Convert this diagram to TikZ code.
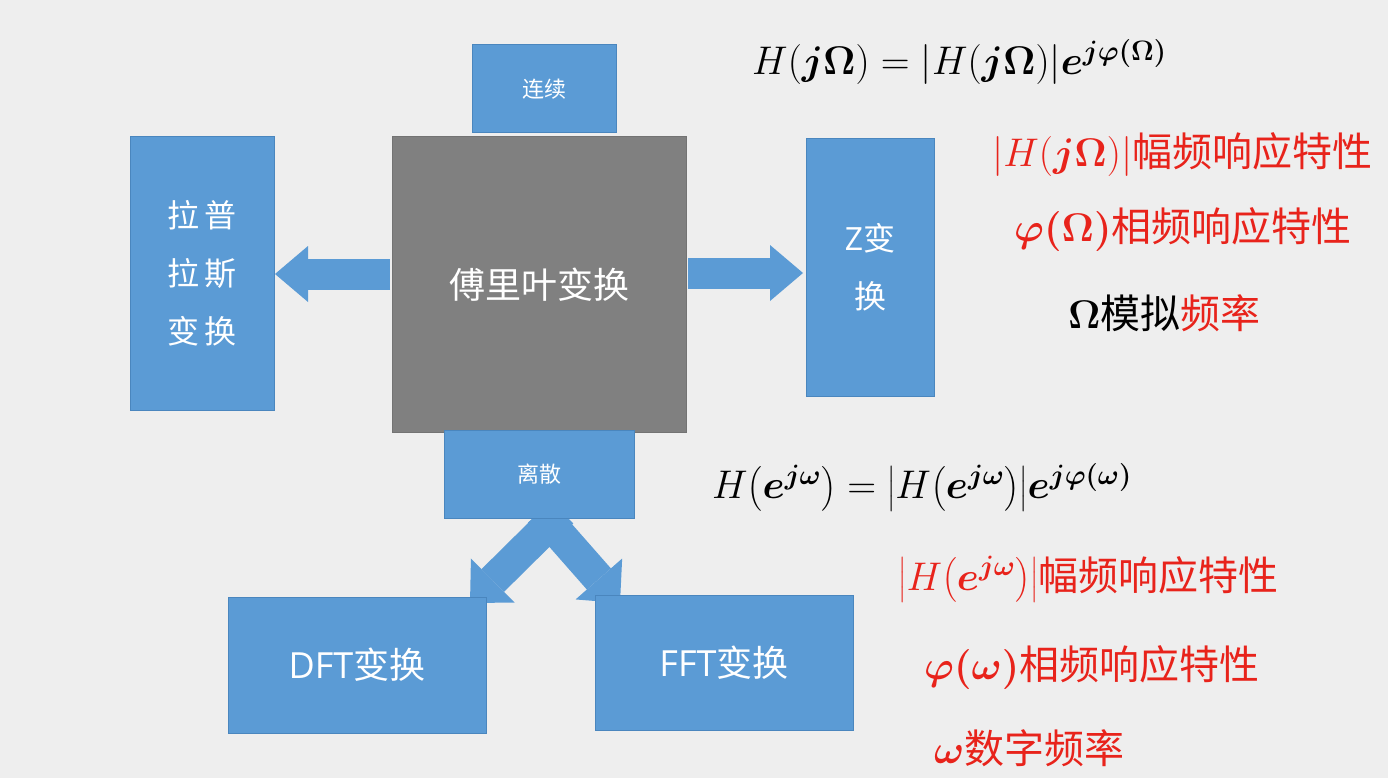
\RequirePackage{fix-cm}
\documentclass[tikz,border=0pt]{standalone}
\usepackage{amsmath,bm}
\usepackage{fontspec}
\setsansfont{Open Sans}
\newfontfamily\cjk{Noto Sans CJK SC}
\usetikzlibrary{calc}
\definecolor{bb}{HTML}{5B9BD5}
\definecolor{bd}{HTML}{4A86BE}
\definecolor{gr}{HTML}{808080}
\definecolor{rd}{HTML}{E8231B}
\definecolor{bg}{HTML}{EEEEEE}
\tikzset{
 blk/.style={draw=bd,fill=bb,line width=1pt,text=white,inner sep=0pt,font=\cjk},
 big/.style={font=\fontsize{40}{46}\selectfont},
 lab/.style={anchor=west,inner sep=0pt},
}
\begin{document}
\begin{tikzpicture}[x=1pt,y=-1pt]
\fill[bg] (0,0) rectangle (1388,778);
\useasboundingbox (0,0) rectangle (1388,778);
% boxes
\node[blk,minimum width=144pt,minimum height=88pt,font=\cjk\fontsize{22}{26}\selectfont] (lianxu) at (544,89) {连续};
\node[blk,draw=gr!90!black,fill=gr,minimum width=294pt,minimum height=295pt,font=\cjk\fontsize{36}{40}\selectfont] (ft) at (539,284.5) {傅里叶变换};
\node[blk,minimum width=144pt,minimum height=273pt,align=center,font=\cjk\fontsize{32}{58}\selectfont] (lap) at (202,273.5) {拉\,普\\拉\,斯\\变\,换};
\node[blk,minimum width=128pt,minimum height=257pt,align=center,font=\cjk\fontsize{32}{58}\selectfont] (z) at (870,267.5) {{\sffamily Z}变\\换};
% chevron arrows (drawn before 离散 box)
\coordinate (s1) at (562,512);
\coordinate (t1) at (470,603);
\coordinate (s2) at (540,512);
\coordinate (t2) at (620,603);
\foreach \s/\t in {s1/t1,s2/t2}{
 \coordinate (b) at ($(\t)!32pt!(\s)$);
 \draw[bb,line width=32pt] (\s) -- (b);
 \fill[bb] (\t) -- ($(b)!31pt!90:(\t)$) -- ($(b)!31pt!-90:(\t)$) -- cycle;
}
\node[blk,minimum width=190pt,minimum height=88pt,font=\cjk\fontsize{22}{26}\selectfont] (lisan) at (539,474) {离散};
\node[blk,minimum width=258pt,minimum height=136pt,font=\fontsize{36}{40}\selectfont] (dft) at (357,665) {{\sffamily DFT}\cjk 变换};
\node[blk,minimum width=258pt,minimum height=135pt,font=\fontsize{36}{40}\selectfont] (fft) at (724,662.5) {{\sffamily FFT}\cjk 变换};
% horizontal arrows
\coordinate (la) at (390,274); \coordinate (lt) at (275,274);
\coordinate (ra) at (688,273); \coordinate (rt) at (803,273);
\foreach \s/\t in {la/lt,ra/rt}{
 \coordinate (b) at ($(\t)!33pt!(\s)$);
 \draw[bb,line width=31pt] (\s) -- (b);
 \fill[bb] (\t) -- ($(b)!28pt!90:(\t)$) -- ($(b)!28pt!-90:(\t)$) -- cycle;
}
% formulas
\node[lab,big] (f1) at (752,62) {$H(\bm{j\Omega})=|H(\bm{j\Omega})|\bm{e^{j\varphi(\Omega)}}$};
\node[lab,big,text=rd] (a1) at (992,155) {$|H(\bm{j\Omega})|$\cjk 幅频响应特性};
\node[lab,big,text=rd] (a2) at (1014,230) {$\bm{\varphi(\Omega)}$\cjk 相频响应特性};
\node[lab,big] (a3) at (1068,313) {$\bm{\Omega}$\cjk 模拟\textcolor{rd}{频率}};
\node[lab,big] (f2) at (712,488) {$H\bigl(\bm{e^{j\omega}}\bigr)=\bigl|H\bigl(\bm{e^{j\omega}}\bigr)\bigr|\bm{e^{j\varphi(\omega)}}$};
\node[lab,big,text=rd] (b1) at (898,580) {$\bigl|H\bigl(\bm{e^{j\omega}}\bigr)\bigr|$\cjk 幅频响应特性};
\node[lab,big,text=rd] (b2) at (924,668) {$\bm{\varphi(\omega)}$\cjk 相频响应特性};
\node[lab,big,text=rd] (b3) at (934,748) {$\bm{\omega}$\cjk 数字频率};
\end{tikzpicture}
\end{document}
